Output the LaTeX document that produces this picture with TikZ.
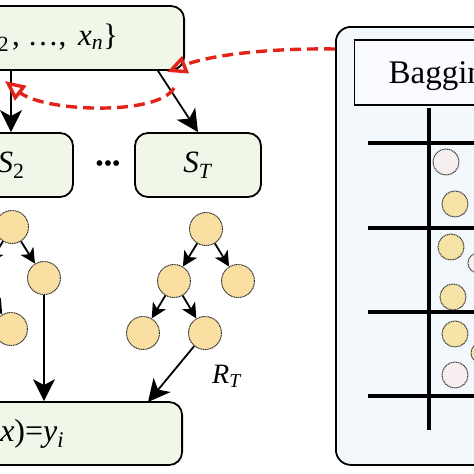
\documentclass[tikz,border=0pt]{standalone}
\usepackage{fontspec}
\setmainfont{Liberation Serif}
\usetikzlibrary{arrows.meta,calc}

\definecolor{boxgreen}{HTML}{F0F7E8}
\definecolor{panelblue}{HTML}{F3F8FC}
\definecolor{leafyellow}{HTML}{FADFA3}
\definecolor{bagyellow}{HTML}{F6E3A8}
\definecolor{bagpink}{HTML}{F7EFEF}
\definecolor{dashred}{HTML}{E2231A}

\newcommand{\vsub}[2]{\textit{#1}\textsubscript{#2}}

\begin{document}
\begin{tikzpicture}[x=1pt,y=-1pt,
    dataset/.style={draw,line width=1.8pt,rounded corners=13pt,fill=boxgreen,
                    minimum height=64pt,font=\fontsize{31}{32}\selectfont},
    leaf/.style={circle,draw=black!80,fill=leafyellow,minimum size=33pt,inner sep=0pt,
                 line width=1pt,dash pattern=on 1.2pt off 0.6pt},
    sample/.style={circle,draw=black!75,inner sep=0pt,line width=1pt,
                   dash pattern=on 1.2pt off 0.6pt},
    spread/.style={-{Stealth[length=22pt,width=22pt,inset=6pt]},line width=1.8pt},
    branch/.style={-{Stealth[length=15pt,width=15pt,inset=4pt]},line width=1.8pt},
    tableline/.style={line width=3.2pt},
    feedback/.style={dashred,line width=3.4pt,dash pattern=on 11pt off 6pt,
                     -{Triangle[open,length=20pt,width=18pt]}}]
  \useasboundingbox (0,0) rectangle (474,474);
  \clip (0,0) rectangle (474,474);

  % left part: data set, subsets, trees
  \node[dataset,anchor=east,inner xsep=66pt] (data) at (185,38)
       {\{\vsub{x}{1},\hspace{5pt} \vsub{x}{2}\hspace{3pt}, \ldots,\hspace{4pt} \vsub{x}{\textit{n}}\}};
  \node[dataset,minimum width=124pt] (s2) at (11,165) {\vsub{S}{2}};
  \node[dataset,minimum width=126pt] (sT) at (198,165) {\vsub{S}{\textit{T}}};
  \node[font=\fontsize{24}{24}\selectfont] (dots) at (108,166) {•••};
  \node[dataset,anchor=east,inner xsep=118pt,minimum height=63pt,font=\fontsize{32}{32}\selectfont]
       (out) at (183,433.5) {\textit{H}(\textit{x})=\vsub{y}{\textit{i}}};

  \node[leaf] (r2) at (12,227) {};
  \node[leaf] (a2) at (-20,278) {};
  \node[leaf] (b2) at (44,278) {};
  \node[leaf] (c2) at (-51,329) {};
  \node[leaf] (d2) at (11,329) {};

  \node[leaf] (rT) at (206,229) {};
  \node[leaf] (aT) at (174,281) {};
  \node[leaf] (bT) at (238,281) {};
  \node[leaf] (cT) at (143,333) {};
  \node[leaf] (dT) at (205,333) {};

  \draw[spread] (s2.north |- data.south) -- (s2.north);
  \draw[spread] ($(data.south east)+(-27,0)$) -- (sT.north);

  \foreach \t in {2,T}
    \foreach \p/\c in {r/a,r/b,a/c,a/d}
      \draw[branch] (\p\t) -- (\c\t);

  \coordinate (inT) at (148,402);
  \draw[spread] (b2) -- (b2 |- out.north);
  \draw[spread] (dT) -- (inT);
  \node[font=\fontsize{28}{28}\selectfont] (RT) at (227,376) {\vsub{R}{\textit{T}}};

  % right part: bagging panel
  \node[draw,line width=1.8pt,rounded corners=15pt,fill=panelblue,anchor=north west,
        minimum width=200pt,minimum height=438pt] (panel) at (335,26) {};
  \node[draw,line width=1.2pt,fill=panelblue!50!white,anchor=west,minimum height=65pt,
        inner xsep=34pt,text depth=0pt,font=\fontsize{33}{33}\selectfont] (bag) at (354,72.5) {Bagging};

  \draw[tableline] (429,108) -- (429,430);
  \foreach \y in {143,228,312,396}
    \draw[tableline] (368,\y) -- (480,\y);

  \foreach \x/\y/\c/\d [count=\i] in {446/162/bagpink/26, 455/204/bagyellow/26,
      451/247/bagyellow/26, 478/263/bagpink/20, 453/297/bagyellow/26,
      455/334/bagyellow/26, 481/353/bagyellow/20, 455/375/bagpink/26}
    \node[sample,fill=\c,minimum size=\d pt] (pick\i) at (\x,\y) {};

  % feedback from the panel
  \coordinate (fbstart) at (335,49);
  \coordinate (fbcorner) at (167,72);
  \coordinate (fbturn) at (174,88);
  \coordinate (fbend) at (5,81);
  \draw[feedback] (fbstart) .. controls (270,48) and (210,55) .. (fbcorner);
  \draw[feedback] (fbturn) .. controls (158,116) and (45,112) .. (fbend);
\end{tikzpicture}
\end{document}
